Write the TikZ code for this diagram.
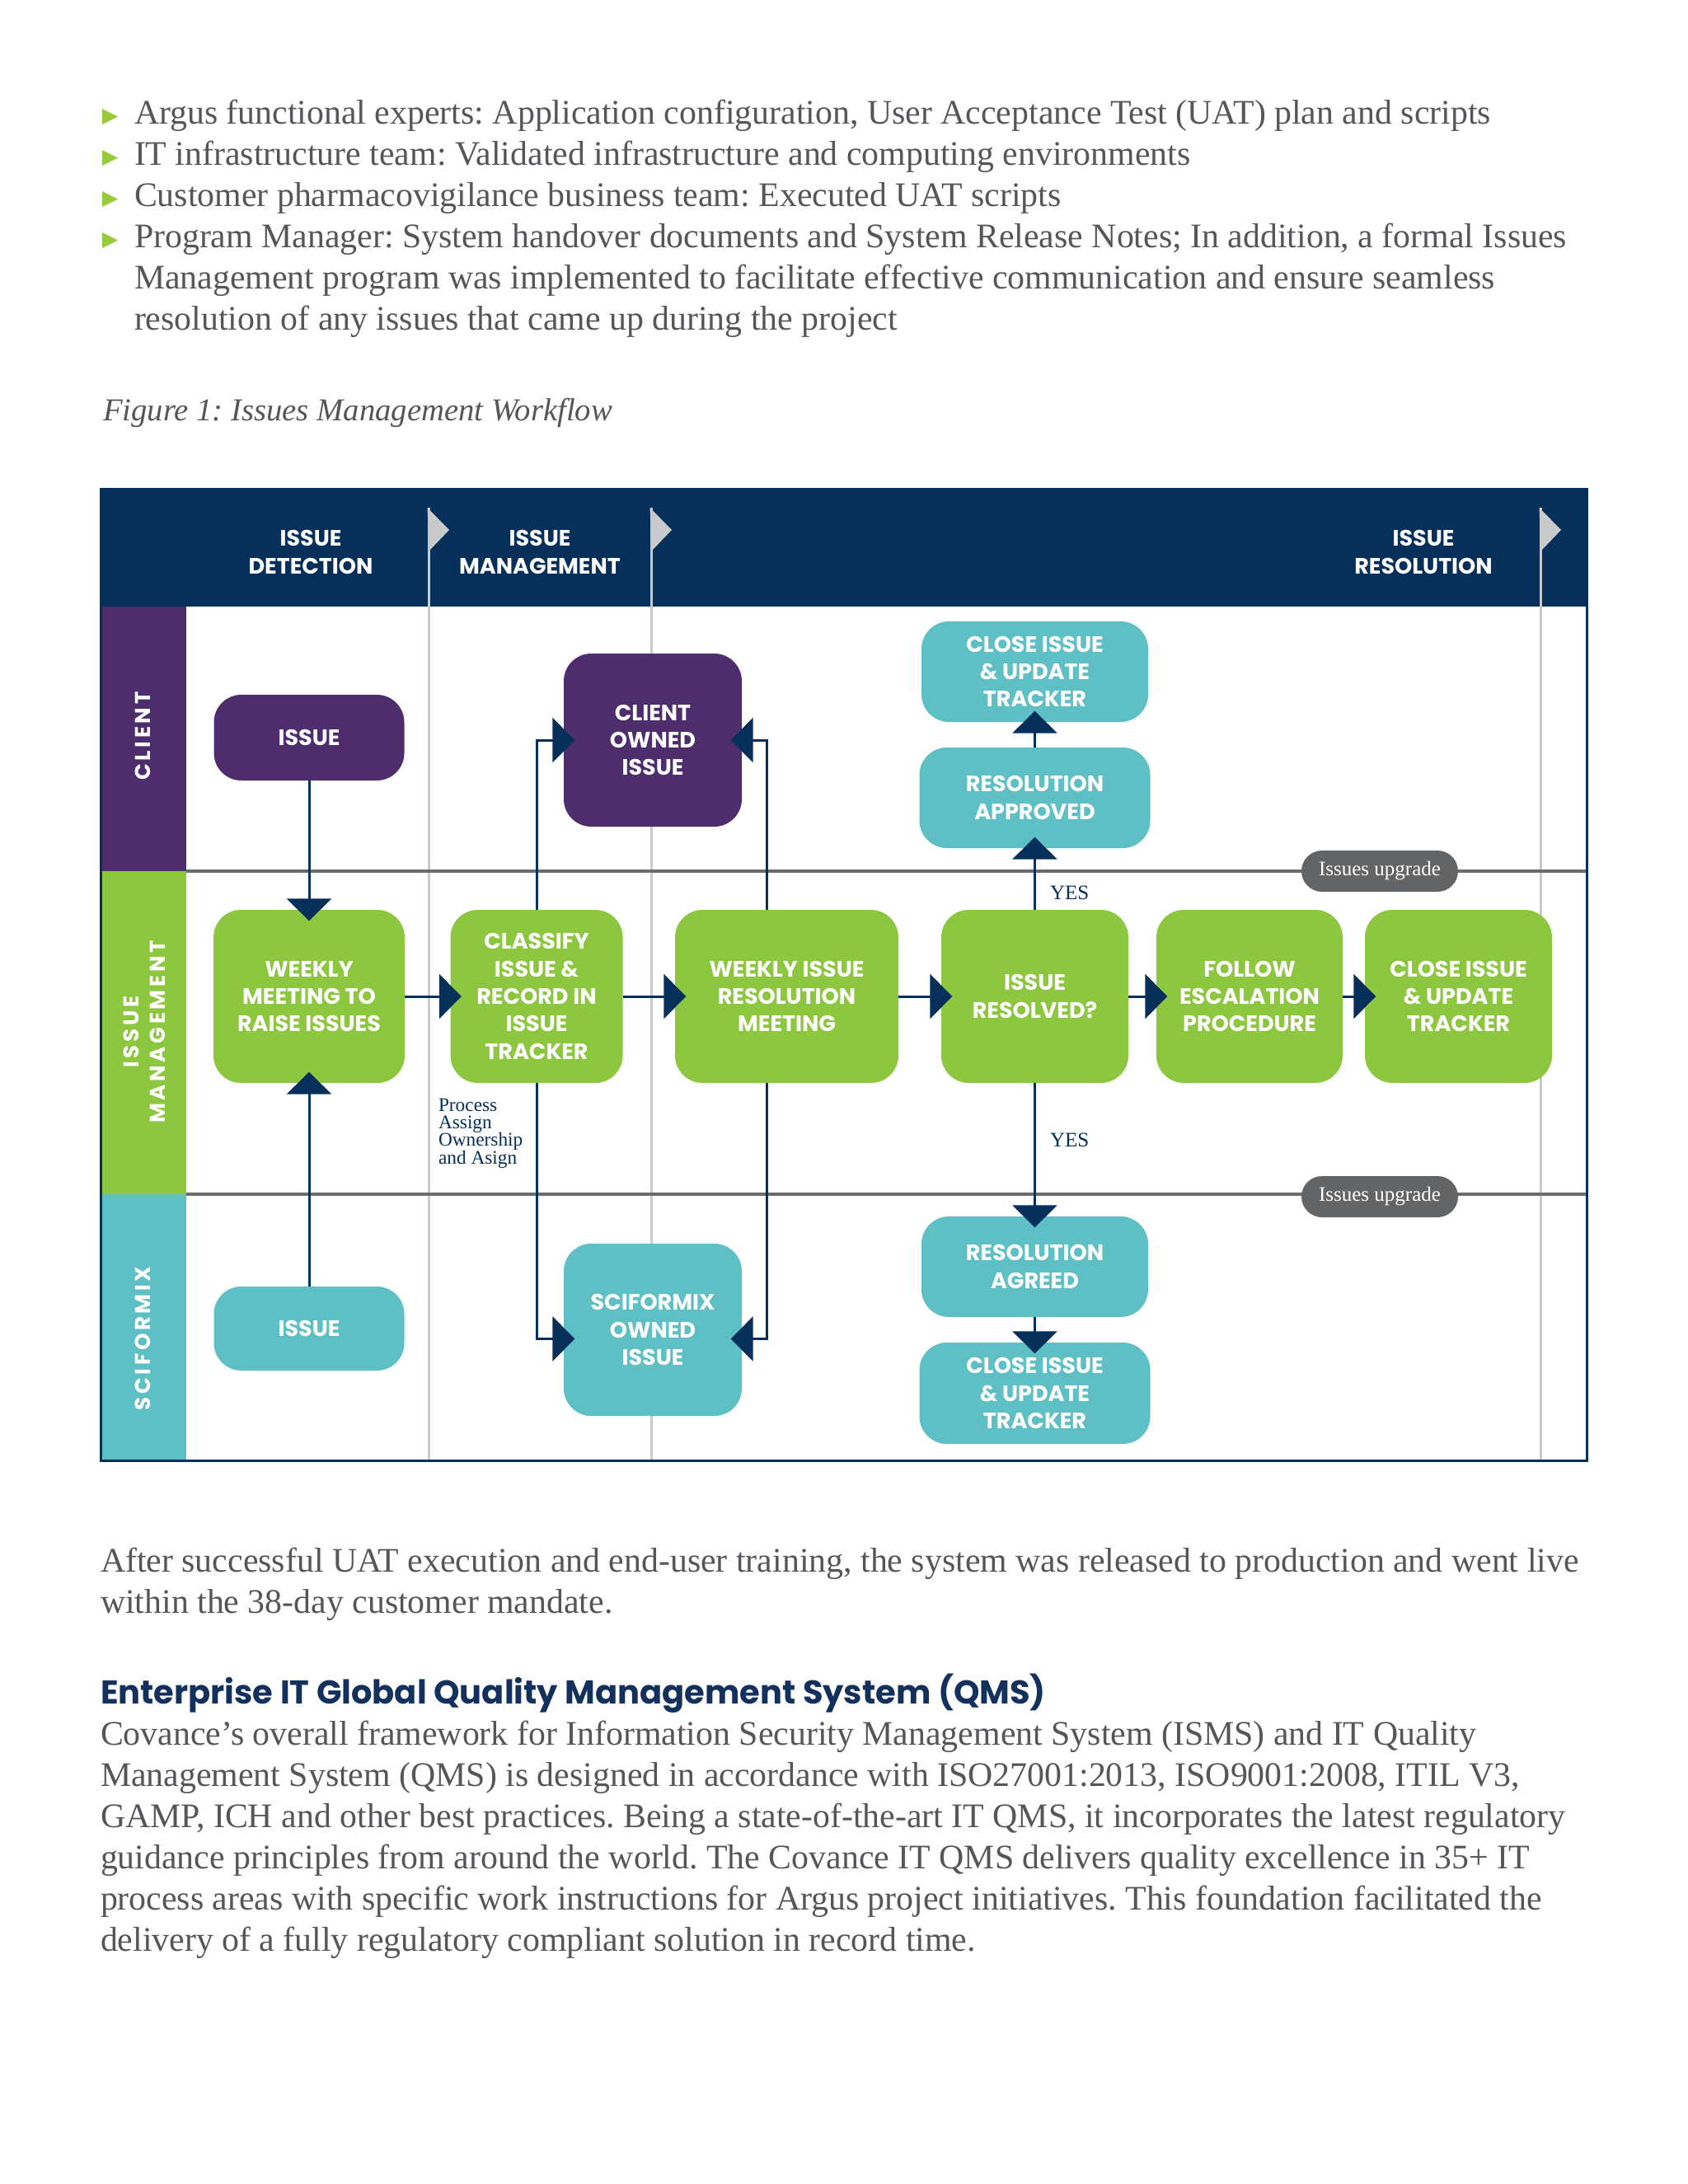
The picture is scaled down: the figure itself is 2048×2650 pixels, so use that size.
\documentclass[tikz,border=0pt]{standalone}
\usepackage{fontspec}
\setmainfont{Liberation Serif}
\newfontfamily\popfont{Poppins}
\newfontfamily\poplsfont{Poppins}[LetterSpace=14]
\usetikzlibrary{arrows.meta}
\definecolor{navy}{HTML}{06305A}
\definecolor{cpurple}{HTML}{4E2D6D}
\definecolor{cgreen}{HTML}{8DC63F}
\definecolor{cteal}{HTML}{5EC0C4}
\definecolor{lanegray}{HTML}{6B6C6E}
\definecolor{divgray}{HTML}{C9CACC}
\definecolor{pillgray}{HTML}{636466}
\definecolor{bodygray}{HTML}{55565A}
\definecolor{headnavy}{HTML}{14305C}
\definecolor{bulletgreen}{HTML}{9BC93C}
\newcommand\boxfont{\popfont\bfseries\fontsize{8.1}{10}\selectfont}
\newcommand\lanefont{\poplsfont\bfseries\fontsize{7.8}{9.6}\selectfont}
\newcommand\bodyfont{\fontsize{12.55}{15}\selectfont}
\frenchspacing
\begin{document}
\begin{tikzpicture}[x=0.3pt,y=-0.3pt,
  every node/.style={inner sep=0pt, outer sep=0pt},
  fbox/.style={rounded corners=10pt, align=center, text=white, font=\boxfont},
  pbox/.style={fbox, fill=cpurple},
  gbox/.style={fbox, fill=cgreen},
  tbox/.style={fbox, fill=cteal},
  hdr/.style={align=center, text=white, font=\boxfont},
  lanelabel/.style={rotate=90, align=center, text=white, font=\lanefont},
  divider/.style={draw=divgray, line width=0.9pt},
  laneline/.style={draw=lanegray, line width=1.2pt},
  conn/.style={draw=navy, line width=0.9pt, -{Triangle[length=8.1pt,width=16.2pt]}, shorten >=-4pt},
  pill/.style={fill=pillgray, rounded corners=7.5pt, minimum width=57pt, minimum height=15pt, text=white, font=\fontsize{7.5}{9}\selectfont},
  yeslabel/.style={anchor=base west, text=navy, font=\fontsize{7.5}{9}\selectfont},
  bodyline/.style={anchor=base west, text=bodygray, font=\bodyfont},
]
\useasboundingbox (0,0) rectangle (2048,2650);
\fill[white] (0,0) rectangle (2048,2650);

% ---------- bullets ----------
\foreach \yy in {150,200,250,300}
  \fill[bulletgreen] (124,\yy-18) -- (143,\yy-8.5) -- (124,\yy+1) -- cycle;
\node[bodyline] (b1) at (163,150) {Argus functional experts: Application configuration, User Acceptance Test (UAT) plan and scripts};
\node[bodyline] (b2) at (163,200) {IT infrastructure team: Validated infrastructure and computing environments};
\node[bodyline] (b3) at (163,250) {Customer pharmacovigilance business team: Executed UAT scripts};
\node[bodyline] (b4) at (163,300) {Program Manager: System handover documents and System Release Notes; In addition, a formal Issues};
\node[bodyline] (b5) at (163,350) {Management program was implemented to facilitate effective communication and ensure seamless};
\node[bodyline] (b6) at (163,400) {resolution of any issues that came up during the project};
\node[bodyline, font=\fontsize{11.6}{15}\selectfont\itshape] (cap) at (125,510) {Figure 1: Issues Management Workflow};

% ---------- diagram frame ----------
\fill[navy] (122,593) rectangle (1925,736);
\fill[cpurple] (122,736) rectangle (226,1057);
\fill[cgreen] (122,1057) rectangle (226,1449);
\fill[cteal] (122,1449) rectangle (226,1772);

\foreach \xx in {520,790,1869}{
  \draw[divider] (\xx,616) -- (\xx,1772);
  \fill[divgray] (\xx-1.5,616) -- (\xx+25,643) -- (\xx+1,668) -- cycle;
}
\draw[laneline] (226,1057) -- (1924,1057);
\draw[laneline] (226,1449) -- (1924,1449);
\draw[navy, line width=0.9pt] (122,593) rectangle (1925,1772);

\node[hdr] (h1) at (377,670) {ISSUE\\DETECTION};
\node[hdr] (h2) at (655,670) {ISSUE\\MANAGEMENT};
\node[hdr] (h3) at (1727,670) {ISSUE\\RESOLUTION};

\node[lanelabel] (lclient) at (173,893) {CLIENT};
\node[lanelabel] (lmgmt) at (175,1252) {ISSUE\\MANAGEMENT};
\node[lanelabel] (lscif) at (173,1624) {SCIFORMIX};

% ---------- boxes ----------
\node[pbox, minimum width=69.3pt, minimum height=31.2pt] (cissue) at (375,895) {ISSUE};
\node[pbox, minimum width=64.8pt, minimum height=63pt] (cowned) at (792,898) {CLIENT\\OWNED\\ISSUE};
\node[tbox, minimum width=82.5pt, minimum height=36.6pt] (closetop) at (1255.5,815) {CLOSE ISSUE\\\& UPDATE\\TRACKER};
\node[tbox, minimum width=84pt, minimum height=36.6pt] (rapproved) at (1255.5,968) {RESOLUTION\\APPROVED};

\node[gbox, minimum width=69.6pt, minimum height=63pt] (wmeet) at (375,1209) {WEEKLY\\MEETING TO\\RAISE ISSUES};
\node[gbox, minimum width=62.7pt, minimum height=63pt] (classify) at (651,1209) {CLASSIFY\\ISSUE \&\\RECORD IN\\ISSUE\\TRACKER};
\node[gbox, minimum width=81.3pt, minimum height=63pt] (wres) at (954.5,1209) {WEEKLY ISSUE\\RESOLUTION\\MEETING};
\node[gbox, minimum width=68.1pt, minimum height=63pt] (iresolved) at (1255.5,1209) {ISSUE\\RESOLVED?};
\node[gbox, minimum width=67.8pt, minimum height=63pt] (follow) at (1516,1209) {FOLLOW\\ESCALATION\\PROCEDURE};
\node[gbox, minimum width=68.1pt, minimum height=63pt] (closeg) at (1769.5,1209) {CLOSE ISSUE\\\& UPDATE\\TRACKER};

\node[tbox, minimum width=82.5pt, minimum height=36.6pt] (ragreed) at (1255.5,1537) {RESOLUTION\\AGREED};
\node[tbox, minimum width=84pt, minimum height=36.9pt] (closebot) at (1255.5,1690.5) {CLOSE ISSUE\\\& UPDATE\\TRACKER};
\node[tbox, minimum width=69.3pt, minimum height=30.6pt] (sissue) at (375,1612) {ISSUE};
\node[tbox, minimum width=64.8pt, minimum height=62.7pt] (sowned) at (792,1613.5) {SCIFORMIX\\OWNED\\ISSUE};

% ---------- pills and labels ----------
\node[pill] (up1) at (1674,1057) {Issues upgrade};
\node[pill] (up2) at (1674,1452) {Issues upgrade};
\node[yeslabel] (yes1) at (1274,1091) {YES};
\node[yeslabel] (yes2) at (1274,1391) {YES};
\node[anchor=north west, align=left, text=navy, font=\fontsize{7}{6.4}\selectfont] (proc) at (532,1333) {Process\\Assign\\Ownership\\and Asign};

% ---------- connectors ----------
\draw[conn] (cissue) -- (wmeet);
\draw[conn] (sissue) -- (wmeet);
\draw[conn] (wmeet) -- (classify);
\draw[conn] (classify) -- (wres);
\draw[conn] (wres) -- (iresolved);
\draw[conn] (iresolved) -- (follow);
\draw[conn] (follow) -- (closeg);
\draw[conn] (iresolved) -- (rapproved);
\draw[conn] (rapproved) -- (closetop);
\draw[conn] (iresolved) -- (ragreed);
\draw[conn] (ragreed) -- (closebot);
\draw[conn] (classify.north) |- (cowned.west);
\draw[conn] (classify.south) |- ([yshift=-3.3pt]sowned.west);
\draw[conn] ([xshift=-7.35pt]wres.north) |- (cowned.east);
\draw[conn] ([xshift=-7.35pt]wres.south) |- ([yshift=-3.3pt]sowned.east);

% ---------- text below ----------
\node[bodyline] (p1) at (122,1907) {After successful UAT execution and end-user training, the system was released to production and went live};
\node[bodyline] (p2) at (122,1957) {within the 38-day customer mandate.};
\node[anchor=base west, text=headnavy, font=\popfont\bfseries\fontsize{12}{13}\selectfont] (head) at (122,2067) {Enterprise IT Global Quality Management System (QMS)};
\node[bodyline] (q1) at (122,2117) {Covance’s overall framework for Information Security Management System (ISMS) and IT Quality};
\node[bodyline] (q2) at (122,2167) {Management System (QMS) is designed in accordance with ISO27001:2013, ISO9001:2008, ITIL V3,};
\node[bodyline] (q3) at (122,2217) {GAMP, ICH and other best practices. Being a state-of-the-art IT QMS, it incorporates the latest regulatory};
\node[bodyline] (q4) at (122,2267) {guidance principles from around the world. The Covance IT QMS delivers quality excellence in 35+ IT};
\node[bodyline] (q5) at (122,2317) {process areas with specific work instructions for Argus project initiatives. This foundation facilitated the};
\node[bodyline] (q6) at (122,2367) {delivery of a fully regulatory compliant solution in record time.};
\end{tikzpicture}
\end{document}
